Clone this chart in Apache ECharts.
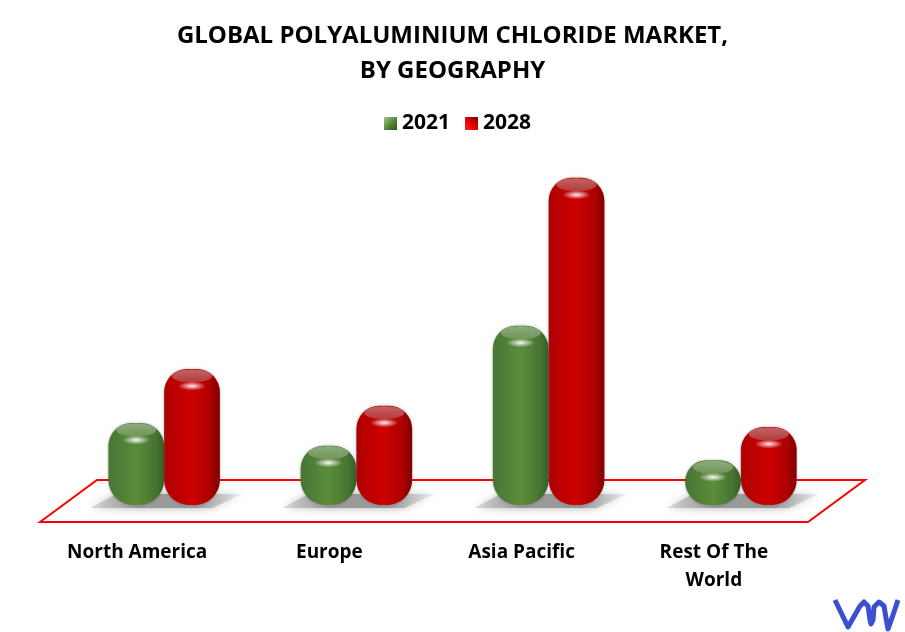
<!DOCTYPE html>
<html><head><meta charset="utf-8">
<style>html,body{margin:0;padding:0;background:#fff}#c{width:905px;height:632px}</style>
<script src="https://cdn.jsdelivr.net/npm/echarts@6/dist/echarts.min.js"></script>
</head><body><div id="c"></div>
<script>
const categories = ['North America','Europe','Asia Pacific','Rest Of The\nWorld'];
const values2021 = [2.05,1.48,4.48,1.12];
const values2028 = [3.4,2.48,8.18,1.95];
const fontFamily = '"Open Sans","Noto Sans",sans-serif';

function hGrad(stops){return new echarts.graphic.LinearGradient(0,0,1,0,stops.map((c,i)=>({offset:c[0],color:c[1]})));}
const greenBody = hGrad([[0,'#487634'],[0.1,'#4b7a35'],[0.5,'#5b8c3c'],[0.85,'#477431'],[1,'#355d27']]);
const redBody = hGrad([[0,'#a50606'],[0.1,'#b60000'],[0.5,'#cc0000'],[0.82,'#ae0000'],[1,'#800000']]);

function capSeries(name, data, side, capColor, z){
  return {
    type:'custom', name:name, silent:true, z:z, clip:false,
    data:data.map((v,i)=>[i,v]), encode:{x:0,y:1}, tooltip:{show:false},
    renderItem:function(params,api){
      const p = api.coord([api.value(0),api.value(1)]);
      const band = api.size([1,0])[0];
      const w = band*0.29;
      const cx = p[0] + side*w/2;
      return {type:'group',children:[
        {type:'ellipse',shape:{cx:cx,cy:p[1]+7,rx:w*0.36,ry:6.5},
          style:{fill:new echarts.graphic.LinearGradient(0,0,0,1,[
            {offset:0,color:capColor[0]},{offset:1,color:capColor[1]}])}},
        {type:'circle',shape:{cx:0,cy:0,r:5},x:cx,y:p[1]+17,scaleX:2.8,scaleY:0.9,
          style:{fill:new echarts.graphic.RadialGradient(0.5,0.5,0.5,[
            {offset:0,color:'rgba(255,255,255,0.98)'},
            {offset:0.35,color:'rgba(255,255,255,0.6)'},
            {offset:1,color:'rgba(255,255,255,0)'}])}}
      ]};
    }
  };
}
function shadowSeries(){
  return {
    type:'custom', silent:true, z:1, clip:false,
    data:categories.map((c,i)=>[i,0]), encode:{x:0,y:1}, tooltip:{show:false},
    renderItem:function(params,api){
      const p = api.coord([api.value(0),0]);
      const cx=p[0], y=p[1];
      return {type:'polygon',shape:{points:[[cx-48,y-11],[cx+78,y-11],[cx+48,y+3],[cx-74,y+3]]},
        style:{fill:new echarts.graphic.LinearGradient(0,0,1,0,[
          {offset:0,color:'rgba(190,190,190,0.5)'},{offset:0.3,color:'#999999'},
          {offset:0.7,color:'#999999'},{offset:1,color:'rgba(200,200,200,0.3)'}]),
          shadowBlur:8,shadowColor:'rgba(140,140,140,0.7)'}};
    }
  };
}
const chart = echarts.init(document.getElementById('c'));
chart.setOption({
  animation:false,
  backgroundColor:'#fff',
  title:{text:'GLOBAL POLYALUMINIUM CHLORIDE MARKET,\nBY GEOGRAPHY',left:'center',top:14,
    textStyle:{fontFamily:fontFamily,fontWeight:'bold',fontSize:24,lineHeight:35,color:'#000'}},
  legend:{top:108,left:379,itemWidth:13,itemHeight:13,itemGap:15,data:[
    {name:'2021',icon:'rect',itemStyle:{color:new echarts.graphic.LinearGradient(0,0,1,1,[{offset:0,color:'#a8c890'},{offset:0.5,color:'#5a8a3c'},{offset:1,color:'#2f5020'}])}},
    {name:'2028',icon:'rect',itemStyle:{color:new echarts.graphic.LinearGradient(1,0,0,1,[{offset:0,color:'#7a0000'},{offset:0.5,color:'#e00000'},{offset:1,color:'#ff2020'}])}}],
    textStyle:{fontFamily:fontFamily,fontWeight:'bold',fontSize:21,color:'#000'}},
  grid:{left:68,right:68,top:105,bottom:127,containLabel:false},
  xAxis:{type:'category',data:categories,axisLine:{show:false},axisTick:{show:false},
    axisLabel:{interval:0,margin:34,fontFamily:fontFamily,fontWeight:'bold',fontSize:19,lineHeight:28,color:'#000',padding:[0,54,0,0],align:'center'}},
  yAxis:{type:'value',min:0,max:10,interval:2,show:false,splitLine:{show:false}},
  graphic:[
    {type:'polygon',z:0,silent:true,shape:{points:[[40,522],[97,480],[865,480],[808,522]]},
      style:{fill:'#fff',stroke:'#ff0000',lineWidth:2}},
    {type:'polyline',z:5,silent:true,
      shape:{points:[[835,600],[848,627],[860,606],[864,602],[868,606],[870,620],[871,624],[873,620],[874,607],[879,602],[884,606],[886,618],[888,629],[893,615],[898,600]]},
      style:{fill:'none',stroke:'#3b4fd0',lineWidth:5,lineJoin:'round'}}
  ],
  series:[
    shadowSeries(),
    {name:'2021',type:'bar',data:values2021,barWidth:'29%',barGap:'0%',z:2,
      itemStyle:{color:greenBody,borderRadius:[23,23,25,25],shadowBlur:3,shadowColor:'rgba(60,60,60,0.4)'}},
    {name:'2028',type:'bar',data:values2028,barWidth:'29%',barGap:'0%',z:3,
      itemStyle:{color:redBody,borderRadius:[23,23,25,25],shadowBlur:3,shadowColor:'rgba(60,60,60,0.4)'}},
    capSeries('cap2021',values2021,-1,['#8dab7a','#6f9659'],4),
    capSeries('cap2028',values2028,1,['#c26464','#b43a3a'],4)
  ]
});
</script></body></html>
